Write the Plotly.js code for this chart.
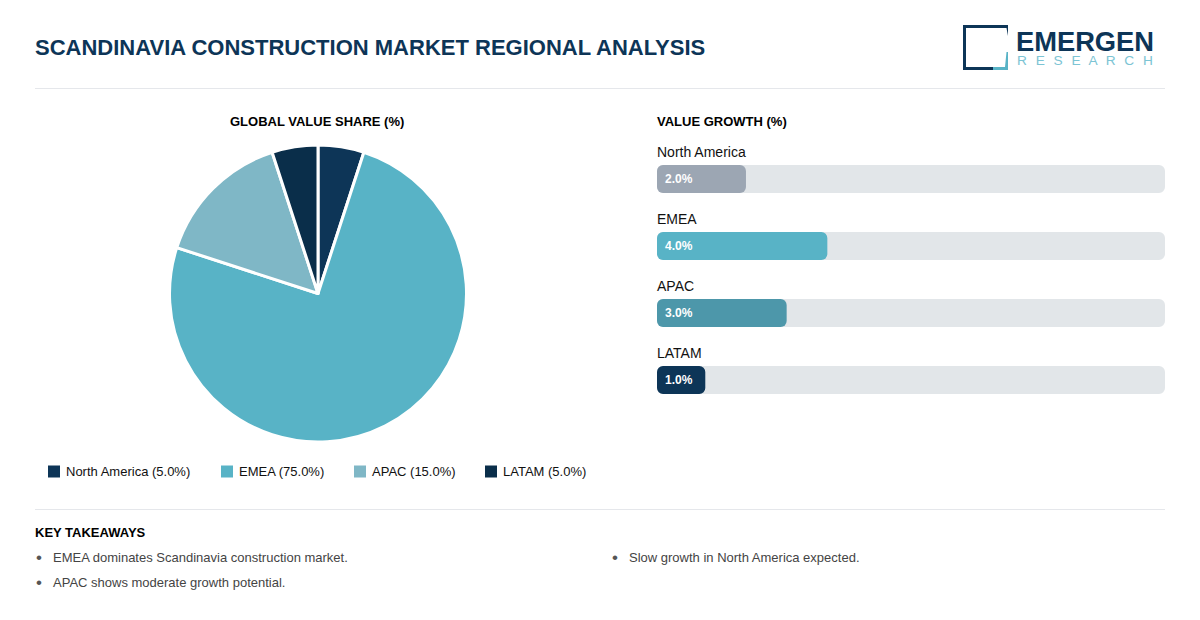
<!DOCTYPE html>
<html><head><meta charset="utf-8">
<script src="https://cdn.plot.ly/plotly-3.0.1.min.js"></script>
<style>html,body{margin:0;padding:0;background:#fff}#c{width:1200px;height:620px}</style>
</head><body><div id="c"></div>
<script>
const regions = ["North America","EMEA","APAC","LATAM"];
const shareValues = [5,75,15,5];
const growthValues = [2,4,3,1];
const shareColors = ["#0d3557","#58b3c6","#7fb7c6","#0a2e4a"];
const growthColors = ["#9ca6b3","#58b3c6","#4d97aa","#0d3557"];
const takeaways = ["EMEA dominates Scandinavia construction market.","APAC shows moderate growth potential.","Slow growth in North America expected."];
const axisMin = -0.187, axisMax = 12.3;

const W=1200,H=620, FONT='"Liberation Sans", Arial, sans-serif';
const px=x=>x/W, py=y=>1-y/H;
function label(x,y,text,size,color,weight,anchor){
  return {xref:'paper',yref:'paper',x:px(x-1),y:py(y),text:text,showarrow:false,xanchor:anchor||'left',yanchor:'middle',
    borderpad:0,font:{family:FONT,size:size,color:color,weight:weight||400}};
}
const annotations=[
  label(35,47.5,"SCANDINAVIA CONSTRUCTION MARKET REGIONAL ANALYSIS",22,"#0d3557",700),
  label(318,121.5,"GLOBAL VALUE SHARE (%)",13,"#000",700,'center'),
  label(657,121.5,"VALUE GROWTH (%)",13,"#000",700),
  label(35,532.5,"KEY TAKEAWAYS",13,"#000",700),
  label(1016,41,"EMERGEN",27.3,"#0d3557",700),
  label(1017,60,"R \u200A E \u200A S \u200A E \u200A A \u200A R \u200A C \u200A H",13.7,"#7cc4d4",400),
];
const legendX=[48,221,354,485];
const shapes=[
  {type:'line',xref:'paper',yref:'paper',x0:px(35),x1:px(1165),y0:py(88.5),y1:py(88.5),line:{color:'#e5e7eb',width:1}},
  {type:'line',xref:'paper',yref:'paper',x0:px(35),x1:px(1165),y0:py(509.5),y1:py(509.5),line:{color:'#e5e7eb',width:1}},
  {type:'path',xref:'paper',yref:'paper',fillcolor:'#0d3557',line:{width:0},
   path:`M${px(963)},${py(25)} L${px(1008)},${py(25)} L${px(1008)},${py(36)} L${px(1006.5)},${py(28)} L${px(966)},${py(28)} L${px(966)},${py(67)} L${px(993)},${py(67)} L${px(993)},${py(70)} L${px(963)},${py(70)} Z`},
  {type:'path',xref:'paper',yref:'paper',fillcolor:'#58b3c6',line:{width:0},
   path:`M${px(993)},${py(67)} L${px(1005)},${py(67)} L${px(1006.5)},${py(52)} L${px(1008)},${py(52)} L${px(1008)},${py(70)} L${px(993)},${py(70)} Z`},
];
regions.forEach((r,i)=>{
  shapes.push({type:'rect',xref:'paper',yref:'paper',x0:px(legendX[i]),x1:px(legendX[i]+12),y0:py(465.5),y1:py(477.5),fillcolor:shareColors[i],line:{width:0}});
  annotations.push(label(legendX[i]+18,471.5,`${r} (${shareValues[i].toFixed(1)}%)`,13,"#111",400));
  annotations.push({xref:'x',yref:'y',x:axisMin,y:r,text:r,showarrow:false,xanchor:'left',yanchor:'middle',yshift:27,xshift:-2,font:{family:FONT,size:14,color:"#111"}});
  annotations.push({xref:'x',yref:'y',x:axisMin,y:r,text:`${growthValues[i].toFixed(1)}%`,showarrow:false,xanchor:'left',yanchor:'middle',xshift:6,font:{family:FONT,size:12,color:"#fff",weight:700}});
});
const takeawayPos=[[40,53,557.5],[40,53,582.5],[616,629,557.5]];
takeaways.forEach((t,i)=>{
  const p=takeawayPos[i];
  annotations.push(label(p[0],p[2],"•",17,"#555",400,'center'));
  annotations.push(label(p[1],p[2],t,13,"#444",400));
});
const traces=[
 {type:'pie',labels:regions,values:shareValues,sort:false,direction:'clockwise',rotation:0,
  marker:{colors:shareColors,line:{color:'#fff',width:3}},textinfo:'none',hoverinfo:'label+percent',showlegend:false,
  domain:{x:[px(169.5),px(466.5)],y:[py(442),py(145)]}},
 {type:'bar',orientation:'h',y:regions,x:regions.map(()=>axisMax-axisMin),base:axisMin,width:0.418,
  marker:{color:'#e2e6e9',cornerradius:6,line:{width:0}},hoverinfo:'skip',showlegend:false,xaxis:'x',yaxis:'y'},
 {type:'bar',orientation:'h',y:regions,x:growthValues.map(v=>v-axisMin),base:axisMin,width:0.418,customdata:growthValues,
  marker:{color:growthColors,cornerradius:6,line:{width:0}},hovertemplate:'%{y}: %{customdata}%<extra></extra>',showlegend:false,xaxis:'x',yaxis:'y'}
];
const layout={width:W,height:H,margin:{l:0,r:0,t:0,b:0},paper_bgcolor:'#fff',plot_bgcolor:'rgba(0,0,0,0)',barmode:'overlay',
  font:{family:FONT},
  xaxis:{domain:[px(657),px(1165)],range:[axisMin,axisMax],visible:false,fixedrange:true},
  yaxis:{domain:[py(413.5),py(145.5)],type:'category',categoryorder:'array',categoryarray:regions,range:[3.5,-0.5],visible:false,fixedrange:true},
  annotations:annotations,shapes:shapes};
Plotly.newPlot('c',traces,layout,{displayModeBar:false,staticPlot:true});
</script></body></html>
